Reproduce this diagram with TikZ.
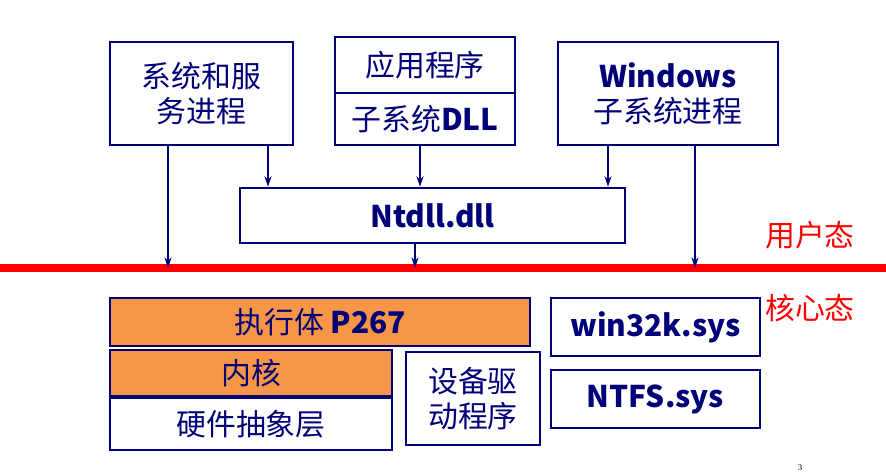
\documentclass[tikz,border=0pt]{standalone}
\usepackage{fontspec}
\setmainfont{Liberation Serif}
\newfontfamily\cjk{Noto Sans CJK SC}
\usetikzlibrary{arrows.meta}
\definecolor{navy}{RGB}{0,0,120}
\definecolor{boxorange}{RGB}{247,150,70}
\tikzstyle{block} = [draw=navy, line width=1.5pt, rectangle, inner sep=0pt,
    text=navy, font=\cjk\fontsize{17}{20}\selectfont, align=center]
\tikzstyle{link} = [navy, line width=1.2pt, -{Stealth[length=6pt,width=4pt]}]
\begin{document}
\begin{tikzpicture}[x=0.02cm,y=-0.02cm]
\useasboundingbox (0,0) rectangle (886,475);

\node[block, minimum width=183*0.02cm, minimum height=103*0.02cm] (sys) at (201.5,93.5) {系统和服\\务进程};
\node[block, minimum width=180*0.02cm, minimum height=56*0.02cm] (app) at (425,65) {应用程序};
\node[block, minimum width=180*0.02cm, minimum height=52*0.02cm] (dll) at (425,119) {子系统\textbf{DLL}};
\node[block, minimum width=220*0.02cm, minimum height=103*0.02cm] (win) at (668,93.5) {\textbf{Windows}\\子系统进程};
\node[block, minimum width=385*0.02cm, minimum height=55*0.02cm] (ntdll) at (432.5,215.5) {\textbf{Ntdll.dll}};

\draw[red, line width=4pt] (0,268) -- (886,268);
\coordinate (c1) at (168,268);
\coordinate (c2) at (415,268);
\coordinate (c3) at (695,268);
\coordinate (x1) at (268,0);
\coordinate (x2) at (420,0);
\coordinate (x3) at (608,0);
\node[text=red, font=\cjk\fontsize{17}{20}\selectfont] (user) at (810,235) {用户态};
\node[text=red, font=\cjk\fontsize{17}{20}\selectfont] (kern) at (810,308) {核心态};

\node[block, fill=boxorange, minimum width=420*0.02cm, minimum height=48*0.02cm] (exec) at (320,322) {执行体 \textbf{P267}};
\node[block, fill=boxorange, minimum width=282*0.02cm, minimum height=46*0.02cm] (core) at (251,373) {内核};
\node[block, minimum width=282*0.02cm, minimum height=52*0.02cm] (hal) at (251,424) {硬件抽象层};
\node[block, minimum width=134*0.02cm, minimum height=93*0.02cm] (drv) at (473,398.5) {设备驱\\动程序};
\node[block, minimum width=209*0.02cm, minimum height=58*0.02cm] (w32) at (655.5,327) {\textbf{win32k.sys}};
\node[block, minimum width=209*0.02cm, minimum height=58*0.02cm] (ntfs) at (655.5,399) {\textbf{NTFS.sys}};
\node[font=\tiny] (page) at (800,468) {3};

\draw[link] (sys.south -| c1) -- (c1);
\draw[link] (sys.south -| x1) -- (ntdll.north -| x1);
\draw[link] (dll.south -| x2) -- (ntdll.north -| x2);
\draw[link] (win.south -| x3) -- (ntdll.north -| x3);
\draw[link] (win.south -| c3) -- (c3);
\draw[link] (ntdll.south -| c2) -- (c2);
\end{tikzpicture}
\end{document}
